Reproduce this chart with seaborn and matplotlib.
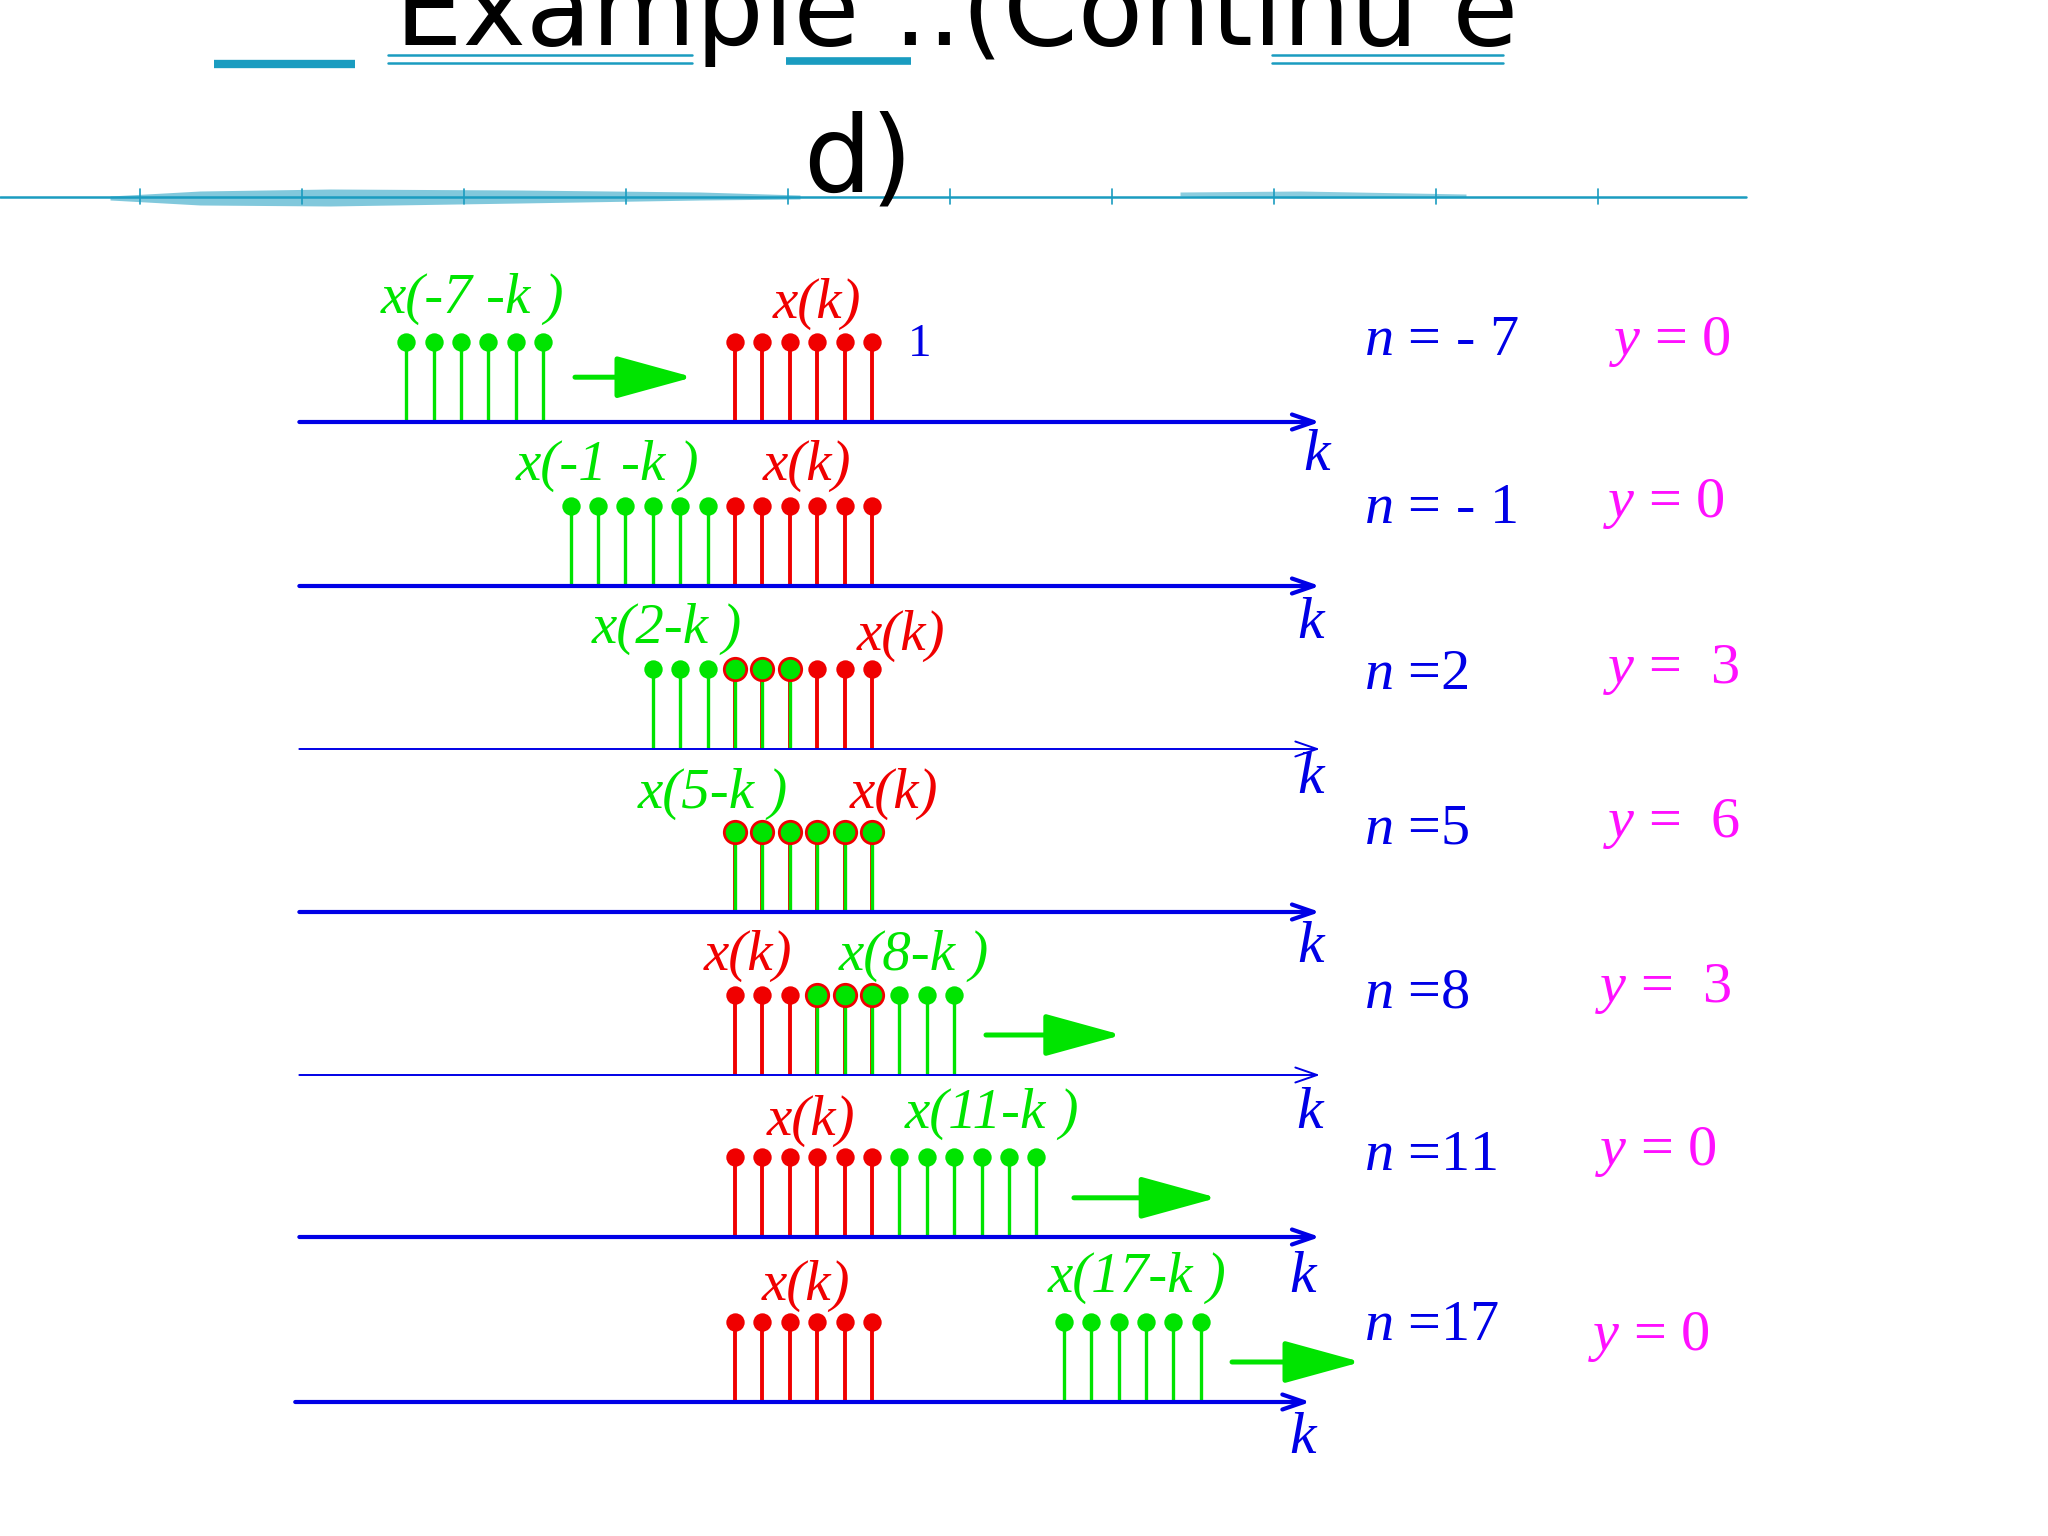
import numpy as np
import seaborn as sns
import matplotlib
matplotlib.use('Agg')
import matplotlib.pyplot as plt

# signal x(k) = 1 for k = 0..5, flipped and shifted copies x(n-k)
k_x = [0, 1, 2, 3, 4, 5]
x_vals = [1, 1, 1, 1, 1, 1]
n_shifts = [-7, -1, 2, 5, 8, 11, 17]
y_out = [0, 0, 3, 6, 3, 0, 0]
title_line1 = 'Example ..(Continu e'
title_line2 = 'd)'

GREEN = '#00e400'
RED = '#f00000'
BLUE = '#0000e6'
MAGENTA = '#ff10ff'
TEAL = '#1a9cc0'

sns.set_theme(style='white')
plt.rcParams['font.family'] = ['Liberation Serif', 'DejaVu Serif']
plt.rcParams['mathtext.fontset'] = 'custom'
plt.rcParams['mathtext.it'] = 'Liberation Serif:italic'
plt.rcParams['mathtext.rm'] = 'Liberation Serif'

W, H = 2048, 1536
fig = plt.figure(figsize=(20.48, 15.36), dpi=100)
fig.patch.set_facecolor('white')

# overlay in pixel coords for slide decoration and labels
ov = fig.add_axes([0, 0, 1, 1])
ov.set_xlim(0, W)
ov.set_ylim(H, 0)
ov.axis('off')

# title (top line is clipped by the slide edge, as on the slide)
ov.text(957, 45, title_line1, fontsize=77, family='DejaVu Sans', color='black', ha='center', va='baseline')
ov.text(858, 192, title_line2, fontsize=77, family='DejaVu Sans', color='black', ha='center', va='baseline')

# hyperlink-like underlines under the title
ov.plot([214, 355], [64, 64], color=TEAL, lw=6, solid_capstyle='butt')
ov.plot([388, 692], [55, 55], color=TEAL, lw=1.8)
ov.plot([388, 692], [63, 63], color=TEAL, lw=1.8)
ov.plot([786, 911], [61, 61], color=TEAL, lw=5.5, solid_capstyle='butt')
ov.plot([1272, 1503], [55, 55], color=TEAL, lw=1.8)
ov.plot([1272, 1503], [63, 63], color=TEAL, lw=1.8)

# ruler line with ticks and smudges
ov.fill_between([110, 200, 330, 520, 700, 800], [196, 191, 189, 190, 192, 195],
                [200, 205, 206, 203, 200, 199], color=TEAL, alpha=0.55, lw=0)
ov.fill_between([1180, 1300, 1466], [192, 191, 194], [196, 198, 197], color=TEAL, alpha=0.5, lw=0)
ov.plot([0, 1746], [197, 197], color=TEAL, lw=1.8)
for tx in range(140, 1610, 162):
    ov.plot([tx, tx], [189, 204], color=TEAL, lw=1.2)

# stem rows
baselines = [422, 586, 749, 912, 1075, 1237, 1402]
axis_lw = [3.0, 3.0, 1.4, 3.0, 1.4, 3.0, 3.0]
K0, DK, U = 735, 27.4, 80
xlim = ((250 - K0) / DK, (1420 - K0) / DK)
shift_arrows = {0: (-5.84, -1.53, 0.56), 4: (9.16, 14.12, 0.5), 5: (12.37, 17.6, 0.49), 6: (18.14, 22.85, 0.5)}

for i, (n, base) in enumerate(zip(n_shifts, baselines)):
    ax = fig.add_axes([250 / W, 1 - (base + 20) / H, 1170 / W, 145 / H])
    ax.set_xlim(*xlim)
    ax.set_ylim(-20 / U, 125 / U)
    ax.axis('off')

    k_flip = [n - k for k in k_x[::-1]]
    x_flip = x_vals[::-1]
    overlap = set(k_x) & set(k_flip)

    # k axis with arrow
    k_start, k_end = (-16.05, 21.0) if i == 6 else (-15.9, 21.35)
    ax.annotate('', xy=(k_end, 0), xytext=(k_start, 0),
                arrowprops=dict(arrowstyle='->,head_length=1.3,head_width=0.45', color=BLUE,
                                lw=axis_lw[i], shrinkA=0, shrinkB=0))

    ax.vlines(k_x, 0, x_vals, color=RED, lw=2.8)
    ax.vlines(k_flip, 0, x_flip, color=GREEN, lw=2.4)
    sns.scatterplot(x=k_x, y=x_vals, ax=ax, color=RED, s=175, edgecolor=RED, linewidth=0, legend=False, zorder=3)
    plain = [k for k in k_flip if k not in overlap]
    both = [k for k in k_flip if k in overlap]
    sns.scatterplot(x=plain, y=[1] * len(plain), ax=ax, color=GREEN, s=175, linewidth=0, legend=False, zorder=4)
    if both:
        sns.scatterplot(x=both, y=[1] * len(both), ax=ax, color=GREEN, s=260, edgecolor=RED,
                        linewidth=2.0, legend=False, zorder=5)

    if i in shift_arrows:
        a0, a1, ay = shift_arrows[i]
        ax.annotate('', xy=(a1, ay), xytext=(a0, ay),
                    arrowprops=dict(arrowstyle='-|>,head_length=4.0,head_width=1.1', color=GREEN,
                                    lw=3.6, shrinkA=0, shrinkB=0))

# labels: (text, x, y)
flip_labels = [('x(-7 -k )', 381, 313), ('x(-1 -k )', 516, 480), ('x(2-k )', 592, 643),
               ('x(5-k )', 638, 808), ('x(8-k )', 839, 970), ('x(11-k )', 905, 1128),
               ('x(17-k )', 1048, 1292)]
xk_labels = [(773, 318), (763, 480), (857, 650), (850, 808), (704, 970), (767, 1135), (762, 1300)]
k_labels = [(1303, 470), (1297, 638), (1297, 793), (1297, 962), (1296, 1128), (1289, 1292), (1289, 1453)]
n_pos = [(1364, 355), (1364, 523), (1364, 689), (1364, 843), (1364, 1007), (1364, 1170), (1364, 1340)]
y_pos = [(1609, 355), (1603, 517), (1603, 683), (1603, 837), (1595, 1002), (1595, 1165), (1588, 1350)]

for i, n in enumerate(n_shifts):
    t, lx, ly = flip_labels[i]
    ov.text(lx, ly, t, color=GREEN, fontsize=41, fontstyle='italic', va='baseline')
    ov.text(xk_labels[i][0], xk_labels[i][1], 'x(k)', color=RED, fontsize=41, fontstyle='italic', va='baseline')
    ov.text(k_labels[i][0], k_labels[i][1], 'k', color=BLUE, fontsize=43, fontstyle='italic', va='baseline')
    n_txt = f'$n$ = - {abs(n)}' if n < 0 else f'$n$ ={n}'
    ov.text(n_pos[i][0], n_pos[i][1], n_txt, color=BLUE, fontsize=42, va='baseline')
    y_txt = f'$y$ = {y_out[i]}' if y_out[i] == 0 else f'$y$ =  {y_out[i]}'
    ov.text(y_pos[i][0], y_pos[i][1], y_txt, color=MAGENTA, fontsize=42, va='baseline')

ov.text(908, 356, '1', color=BLUE, fontsize=34, va='baseline')

fig.savefig('out.png', dpi=100, facecolor='white')
